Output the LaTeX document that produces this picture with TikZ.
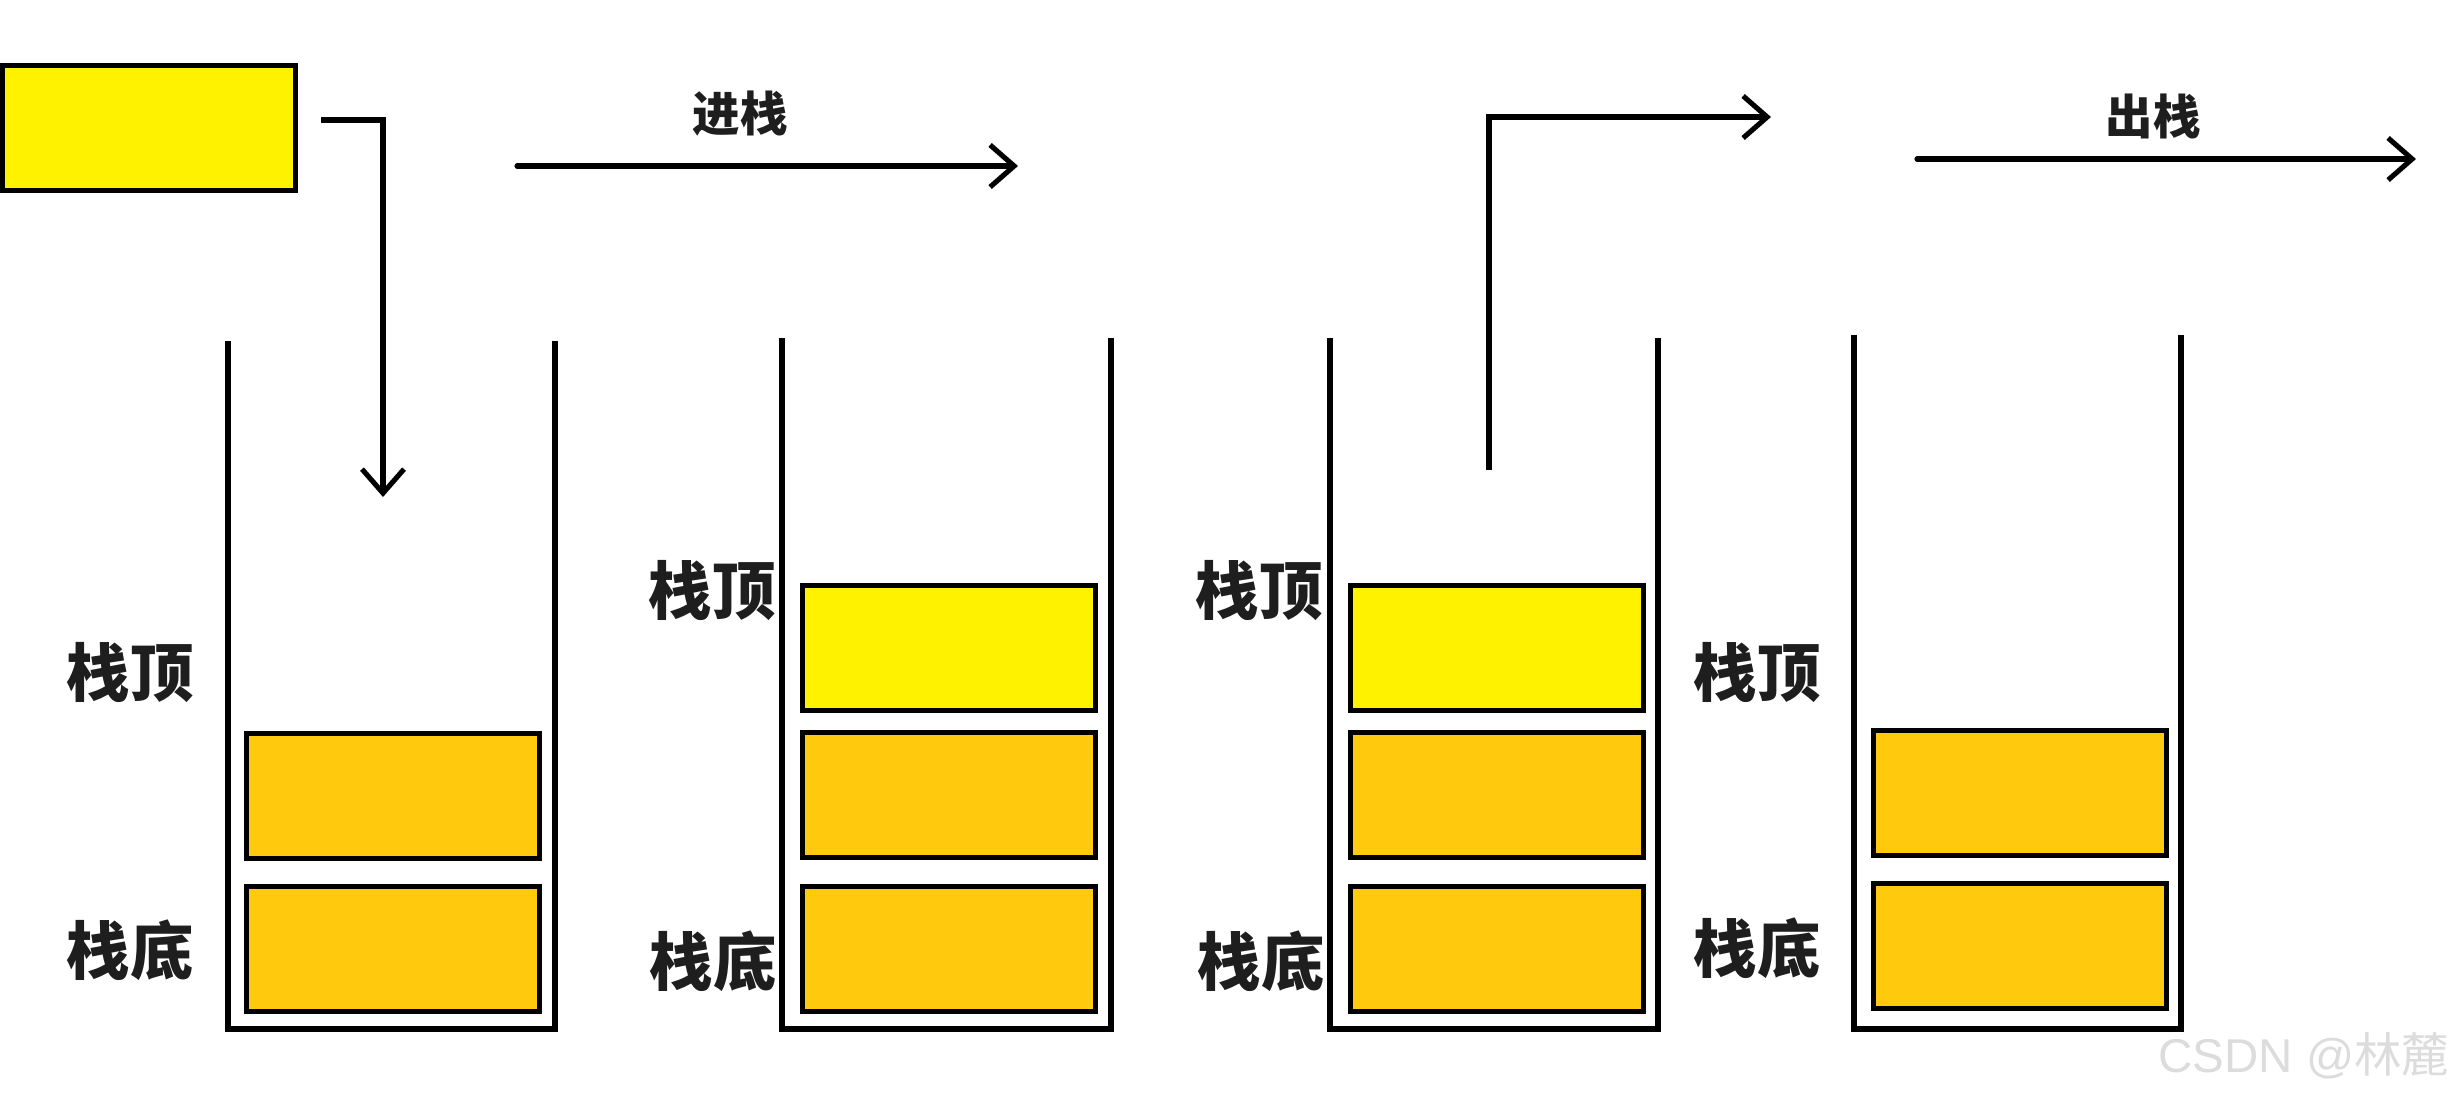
\documentclass[tikz,border=0pt]{standalone}
\usepackage{fontspec}
\usepackage{xcolor}
\usetikzlibrary{arrows.meta}
\newfontfamily\cjk{Noto Sans CJK SC}
\setsansfont{Liberation Sans}
\definecolor{paintyellow}{HTML}{FFF200}
\definecolor{paintgold}{HTML}{FFC90E}
\definecolor{inkdark}{HTML}{1E1E1E}
\definecolor{markgray}{HTML}{DCDCDC}

\begin{document}
\begin{tikzpicture}[x=0.01cm,y=-0.01cm,
  item/.style={draw=black,line width=1.6pt,minimum width=2.93cm,minimum height=1.25cm,inner sep=0pt},
  newitem/.style={item,fill=paintyellow},
  olditem/.style={item,fill=paintgold},
  wall/.style={draw=black,line width=1.45pt},
  lab/.style={font=\cjk\bfseries\fontsize{18}{20}\selectfont,text=inkdark,inner sep=0pt},
  oplab/.style={font=\cjk\bfseries\fontsize{13.5}{15}\selectfont,text=inkdark,inner sep=0pt},
  flow/.style={line width=1.45pt,line cap=round},
  >={Straight Barb[length=2.4mm,width=4.2mm]}]
  \useasboundingbox (0,0) rectangle (2453,1097);
  % element waiting to be pushed
  \node[newitem] (incoming) at (149,128) {};
  \coordinate (pushfrom) at (321,120);
  \coordinate (pushto) at (383,497);
  \draw[->,line width=1.45pt] (pushfrom) -| (pushto);
  % stack 1
  \draw[wall] (228,341) -- (228,1029) -- (555,1029) -- (555,341);
  \node[olditem] (a2) at (393,796) {};
  \node[olditem] (a1) at (393,949) {};
  \node[lab] (atop) at (130,673) {栈顶};
  \node[lab] (abot) at (130,950) {栈底};
  % push
  \coordinate (pushl) at (517,166);
  \coordinate (pushr) at (1018,166);
  \draw[->,flow] (pushl) -- (pushr);
  \node[oplab] (pushlab) at (740,114) {进栈};
  % stack 2
  \draw[wall] (782,338) -- (782,1029) -- (1111,1029) -- (1111,338);
  \node[newitem] (b3) at (949,648) {};
  \node[olditem] (b2) at (949,795) {};
  \node[olditem] (b1) at (949,949) {};
  \node[lab] (btop) at (712,591) {栈顶};
  \node[lab] (bbot) at (713,961) {栈底};
  % stack 3
  \draw[wall] (1330,338) -- (1330,1029) -- (1658,1029) -- (1658,338);
  \node[newitem] (c3) at (1497,648) {};
  \node[olditem] (c2) at (1497,795) {};
  \node[olditem] (c1) at (1497,949) {};
  \node[lab] (ctop) at (1259,591) {栈顶};
  \node[lab] (cbot) at (1261,961) {栈底};
  \coordinate (popfrom) at (1489,470);
  \coordinate (popto) at (1771,117);
  \draw[->,line width=1.45pt] (popfrom) |- (popto);
  % pop
  \coordinate (popl) at (1917,159);
  \coordinate (popr) at (2416,159);
  \draw[->,flow] (popl) -- (popr);
  \node[oplab] (poplab) at (2153,116) {出栈};
  % stack 4
  \draw[wall] (1854,335) -- (1854,1029) -- (2181,1029) -- (2181,335);
  \node[olditem] (d2) at (2020,793) {};
  \node[olditem] (d1) at (2020,946) {};
  \node[lab] (dtop) at (1757,673) {栈顶};
  \node[lab] (dbot) at (1757,948) {栈底};
  \node[anchor=east,text=markgray,font=\sffamily\fontsize{13.5}{15}\selectfont,inner sep=0pt] (mark) at (2450,1056) {CSDN @{\cjk 林麓}};
\end{tikzpicture}
\end{document}
